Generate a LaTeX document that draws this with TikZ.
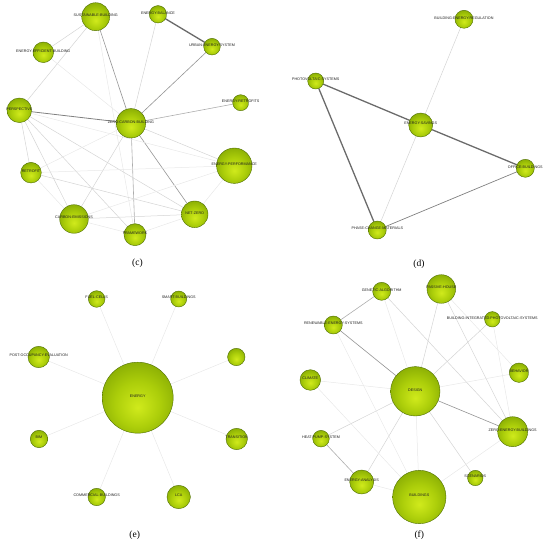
\documentclass[tikz,border=0pt]{standalone}
\usepackage{fontspec}
\setmainfont{Liberation Serif}
\newfontfamily\lblfont{Liberation Sans}
\usetikzlibrary{backgrounds}
\definecolor{gcen}{RGB}{208,234,28}
\definecolor{gmid}{RGB}{172,206,10}
\definecolor{gedge}{RGB}{115,152,0}
\definecolor{grim}{RGB}{78,110,0}
\pgfdeclareradialshading{greenball}{\pgfpoint{0bp}{-7bp}}{color(0bp)=(gcen);color(16bp)=(gmid);color(38bp)=(gedge);color(50bp)=(grim)}
\tikzset{
  ball/.style={circle, inner sep=0pt, outer sep=0pt, shading=greenball, draw=grim, line width=0.4pt, minimum size=#1},
  lbl/.style={font=\lblfont\fontsize{3.7}{4}\selectfont, text=black!88, inner sep=0pt, yshift=1.3pt},
  ethick/.style={draw=black!58, line width=1.3pt},
  emed/.style={draw=black!42, line width=0.6pt},
  elight/.style={draw=black!17, line width=0.5pt},
  evlight/.style={draw=black!9, line width=0.5pt},
  captxt/.style={font=\fontsize{9.5}{10}\selectfont, inner sep=0pt}
}
\begin{document}
\begin{tikzpicture}[x=1pt,y=-1pt]
\useasboundingbox (0,0) rectangle (550,545);
% ---------- (c) ----------
\node[ball=28pt, label={[lbl]center:SUSTAINABLE-BUILDING}] (sb) at (95.7,16.7) {};
\node[ball=17.4pt, label={[lbl]center:ENERGY-BALANCE}] (eb) at (158,14.3) {};
\node[ball=16.6pt, label={[lbl]center:URBAN-ENERGY-SYSTEM}] (ues) at (212,46.7) {};
\node[ball=20.6pt, label={[lbl]center:ENERGY-EFFICIENT-BUILDING}] (eeb) at (43.3,52.3) {};
\node[ball=16pt, label={[lbl]center:ENERGY-RETROFITS}] (er) at (240.7,102.7) {};
\node[ball=24.6pt, label={[lbl]center:PERSPECTIVE}] (per) at (19.3,110.3) {};
\node[ball=29.4pt, label={[lbl]center:ZERO-CARBON-BUILDING}] (zcb) at (131,123.3) {};
\node[ball=35.4pt, label={[lbl]center:ENERGY-PERFORMANCE}] (ep) at (234.3,165.7) {};
\node[ball=20.6pt, label={[lbl]center:RETROFIT}] (ret) at (31,172.7) {};
\node[ball=28.6pt, label={[lbl]center:CARBON-EMISSIONS}] (ce) at (74,219) {};
\node[ball=26.6pt, label={[lbl]center:NET-ZERO}] (nz) at (194.7,214.3) {};
\node[ball=22pt, label={[lbl]center:FRAMEWORK}] (fw) at (135,234.7) {};
\node[captxt] (capc) at (137.5,263) {(c)};
% ---------- (d) ----------
\node[ball=18pt, label={[lbl]center:BUILDING-ENERGY-REGULATION}] (ber) at (464,19.3) {};
\node[ball=16pt, label={[lbl]center:PHOTOVOLTAIC-SYSTEMS}] (pv) at (315.7,81) {};
\node[ball=24pt, label={[lbl]center:ENERGY-SAVINGS}] (es) at (420.7,125) {};
\node[ball=18pt, label={[lbl]center:OFFICE-BUILDINGS}] (ob) at (525.3,168.3) {};
\node[ball=18pt, label={[lbl]center:PHASE-CHANGE-MATERIALS}] (pcm) at (377.3,230) {};
\node[captxt] (capd) at (419,264) {(d)};
% ---------- (e) ----------
\node[ball=16.6pt, label={[lbl]center:FUEL-CELLS}] (fc) at (96.7,299) {};
\node[ball=16pt, label={[lbl]center:SMART-BUILDINGS}] (smb) at (178.7,299) {};
\node[ball=21.4pt, label={[lbl]center:POST-OCCUPANCY-EVALUATION}] (poe) at (38.7,357) {};
\node[ball=17.4pt] (unl) at (236.3,357) {};
\node[ball=71pt, label={[lbl]center:ENERGY}] (en) at (137.7,397.7) {};
\node[ball=17.4pt, label={[lbl]center:BIM}] (bim) at (39,439) {};
\node[ball=21.4pt, label={[lbl]center:TRANSITION}] (tr) at (236.7,439) {};
\node[ball=17.4pt, label={[lbl]center:COMMERCIAL-BUILDINGS}] (cb) at (96.7,497) {};
\node[ball=23.4pt, label={[lbl]center:LCA}] (lca) at (178.7,497) {};
\node[captxt] (cape) at (134.7,535.5) {(e)};
% ---------- (f) ----------
\node[ball=18pt, label={[lbl]center:GENETIC-ALGORITHM}] (ga) at (381.7,291.3) {};
\node[ball=28.6pt, label={[lbl]center:PASSIVE-HOUSE}] (ph) at (441.3,289) {};
\node[ball=15.4pt, label={[lbl]center:BUILDING-INTEGRATED-PHOTOVOLTAIC-SYSTEMS}] (bipv) at (492.3,319.3) {};
\node[ball=18pt, label={[lbl]center:RENEWABLE-ENERGY-SYSTEMS}] (res) at (333.3,325) {};
\node[ball=20.6pt, label={[lbl]center:CLIMATE}] (cl) at (310.3,380) {};
\node[ball=19.4pt, label={[lbl]center:BEHAVIOR}] (beh) at (519,372.7) {};
\node[ball=49.4pt, label={[lbl]center:DESIGN}] (des) at (415.3,391.3) {};
\node[ball=30pt, label={[lbl]center:ZERO-ENERGY-BUILDINGS}] (zeb) at (512.7,431.7) {};
\node[ball=16.6pt, label={[lbl]center:HEAT-PUMP-SYSTEM}] (hps) at (321,438.7) {};
\node[ball=24pt, label={[lbl]center:ENERGY-ANALYSIS}] (ea) at (361.7,482) {};
\node[ball=15.4pt, label={[lbl]center:SCENARIOS}] (sc) at (475.3,478) {};
\node[ball=53.4pt, label={[lbl]center:BUILDINGS}] (bld) at (419.3,497) {};
\node[captxt] (capf) at (419.3,535.5) {(f)};
% ---------- edges ----------
\begin{scope}[on background layer]
% (c)
\draw[ethick] (eb) -- (ues);
\draw[emed, draw=black!50, line width=0.8pt] (per) -- (zcb);
\draw[emed] (sb) -- (zcb);
\draw[emed] (ues) -- (zcb);
\draw[emed] (zcb) -- (nz);
\draw[emed, draw=black!32] (zcb) -- (fw);
\draw[emed, draw=black!32] (er) -- (zcb);
\draw[elight] (sb) -- (eeb);
\draw[elight] (sb) -- (per);
\draw[elight] (eb) -- (zcb);
\draw[evlight] (eeb) -- (zcb);
\draw[evlight] (sb) -- (fw);
\draw[elight] (per) -- (ret);
\draw[elight] (per) -- (ce);
\draw[elight] (per) -- (fw);
\draw[elight] (per) -- (nz);
\draw[evlight] (per) -- (ep);
\draw[elight] (zcb) -- (ep);
\draw[elight] (zcb) -- (ce);
\draw[evlight] (zcb) -- (ret);
\draw[evlight] (ret) -- (ep);
\draw[elight] (ret) -- (nz);
\draw[evlight] (ret) -- (ce);
\draw[elight] (ce) -- (nz);
\draw[evlight] (ce) -- (ep);
\draw[evlight] (ce) -- (fw);
\draw[evlight] (nz) -- (ep);
\draw[evlight] (nz) -- (fw);
% (d)
\draw[ethick] (pv) -- (es);
\draw[ethick] (pv) -- (pcm);
\draw[ethick] (es) -- (ob);
\draw[emed, draw=black!50, line width=0.7pt] (ob) -- (pcm);
\draw[elight] (ber) -- (es);
\draw[elight] (es) -- (pcm);
% (e)
\foreach \n in {fc,smb,poe,unl,bim,tr,cb,lca} \draw[evlight] (en) -- (\n);
% (f)
\draw[emed, draw=black!32] (ga) -- (res);
\draw[emed] (res) -- (des);
\draw[emed] (des) -- (zeb);
\draw[emed, draw=black!32] (hps) -- (ea);
\draw[elight] (des) -- (ea);
\draw[elight] (des) -- (hps);
\draw[evlight] (ga) -- (des);
\draw[elight] (ga) -- (zeb);
\draw[elight] (ph) -- (des);
\draw[elight] (ph) -- (zeb);
\draw[evlight] (ph) -- (beh);
\draw[elight] (bipv) -- (des);
\draw[evlight] (bipv) -- (zeb);
\draw[evlight] (beh) -- (des);
\draw[evlight] (cl) -- (des);
\draw[evlight] (cl) -- (bld);
\draw[evlight] (des) -- (bld);
\draw[elight] (des) -- (sc);
\draw[evlight] (ea) -- (bld);
\draw[evlight] (bld) -- (zeb);
\draw[evlight] (res) -- (bld);
\end{scope}
\end{tikzpicture}
\end{document}
